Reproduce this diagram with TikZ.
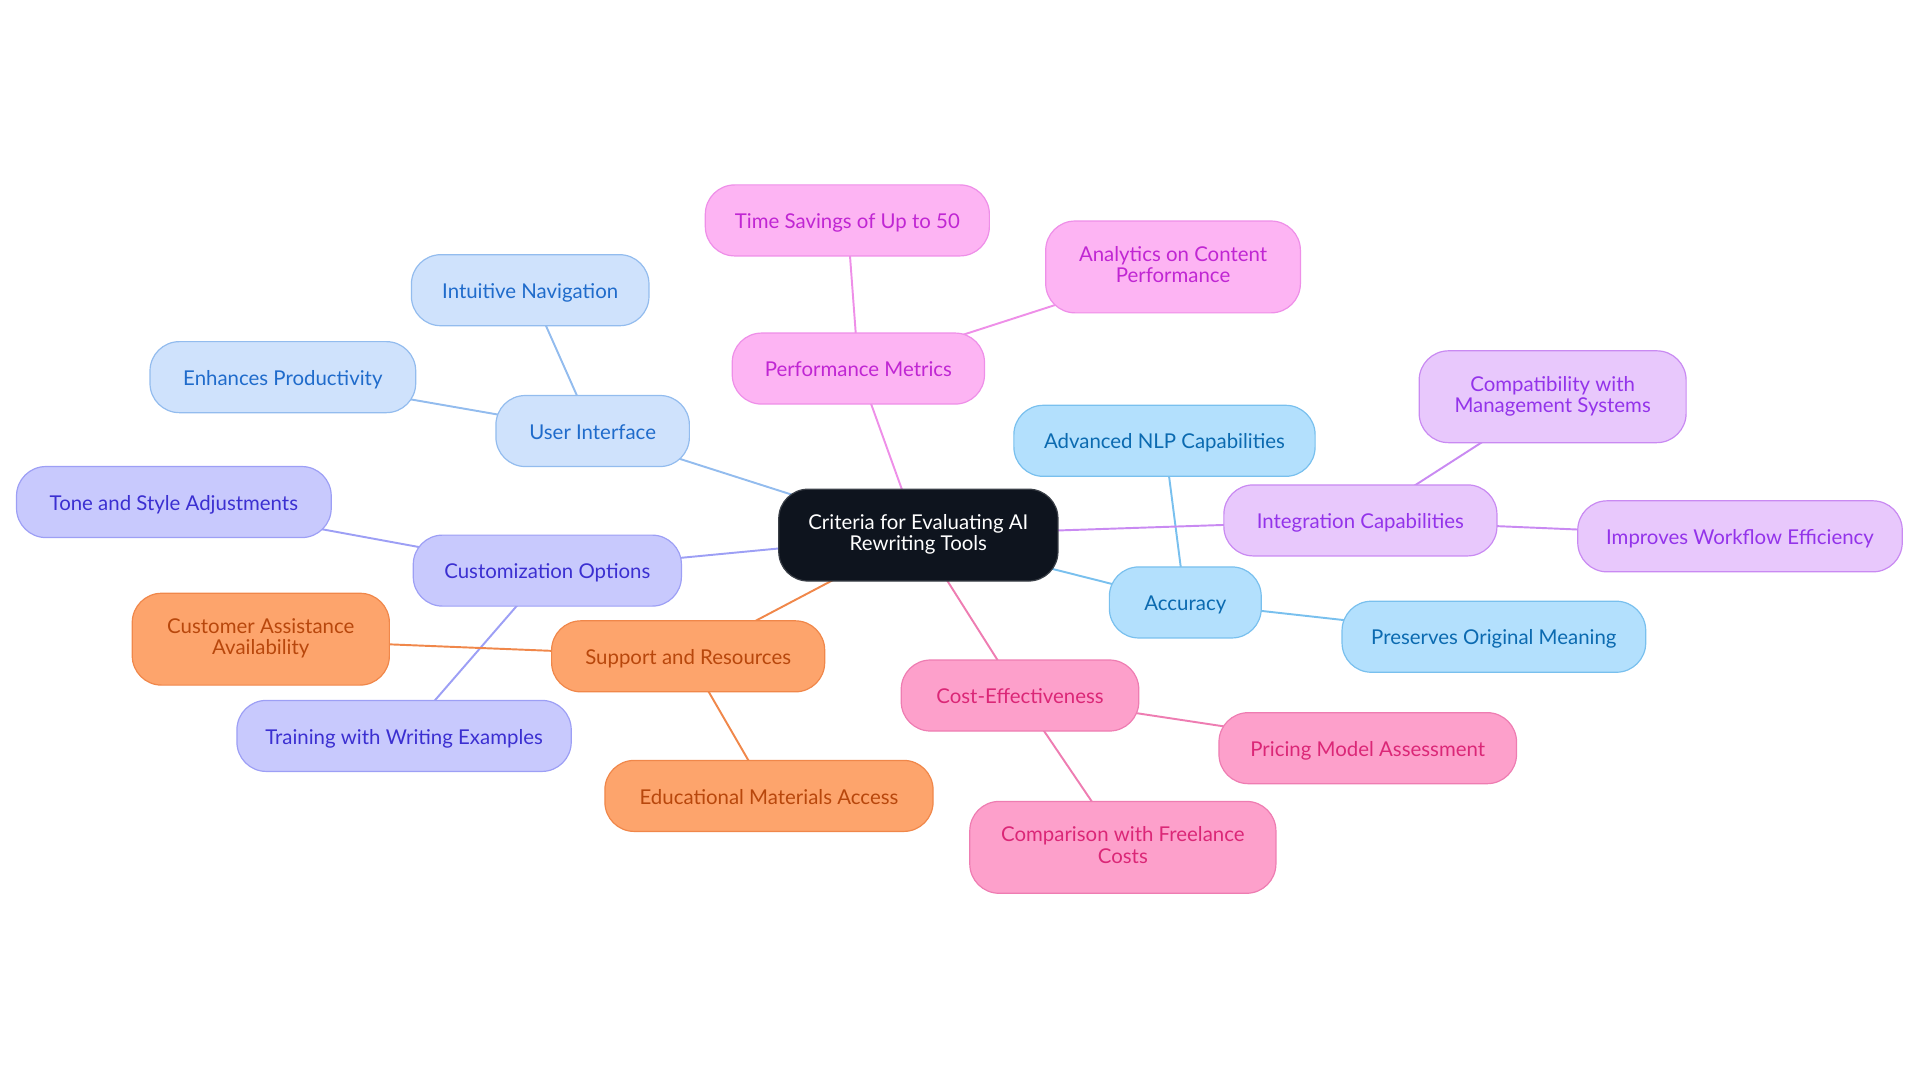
\documentclass[tikz,border=0pt]{standalone}
\usepackage{fontspec}
\setmainfont{Lato}
\usetikzlibrary{backgrounds}
\definecolor{cdark}{HTML}{0E141E}
\definecolor{cdarkb}{HTML}{3A3F47}
\definecolor{pmF}{HTML}{FDB4F3}\definecolor{pmT}{HTML}{C026D3}\definecolor{pmE}{HTML}{EE8FE8}
\definecolor{uiF}{HTML}{CFE2FC}\definecolor{uiT}{HTML}{1F6BCB}\definecolor{uiE}{HTML}{93BCEE}
\definecolor{coF}{HTML}{C8C9FD}\definecolor{coT}{HTML}{3B2FD1}\definecolor{coE}{HTML}{9D9FF5}
\definecolor{suF}{HTML}{FDA46C}\definecolor{suT}{HTML}{B8470C}\definecolor{suE}{HTML}{F0874A}
\definecolor{ceF}{HTML}{FDA0CB}\definecolor{ceT}{HTML}{DB2777}\definecolor{ceE}{HTML}{EE7DB2}
\definecolor{acF}{HTML}{B3E0FD}\definecolor{acT}{HTML}{0B6AB0}\definecolor{acE}{HTML}{79C0EE}
\definecolor{igF}{HTML}{E8C8FC}\definecolor{igT}{HTML}{9333EA}\definecolor{igE}{HTML}{C98AF2}
\tikzset{
  box/.style={rectangle, rounded corners=22pt, line width=0.9pt, inner sep=0pt, align=center,
    font=\fontsize{15.3}{16}\selectfont,
    execute at begin node=\rule{0pt}{15.7pt}, execute at end node=\rule[-3.5pt]{0pt}{3.5pt}},
  sz/.style 2 args={minimum width=#1*0.918pt, minimum height=#2*0.918pt},
  root/.style={box, fill=cdark, draw=cdarkb, text=white},
  pmbox/.style={box, fill=pmF, draw=pmE, text=pmT},
  uibox/.style={box, fill=uiF, draw=uiE, text=uiT},
  cobox/.style={box, fill=coF, draw=coE, text=coT},
  subox/.style={box, fill=suF, draw=suE, text=suT},
  cebox/.style={box, fill=ceF, draw=ceE, text=ceT},
  acbox/.style={box, fill=acF, draw=acE, text=acT},
  igbox/.style={box, fill=igF, draw=igE, text=igT},
  link/.style={line width=1.45pt},
}
\begin{document}
\begin{tikzpicture}[x=0.918pt,y=-0.918pt]
\useasboundingbox (0,0) rectangle (1568,884);
\node[root, sz={228}{75}] (root) at (750,437) {Criteria for Evaluating AI\\Rewriting Tools};
% Performance
\node[pmbox, sz={206}{58}] (pm) at (701,301) {Performance Metrics};
\node[pmbox, sz={232}{58}] (pm1) at (692,180) {Time Savings of Up to 50};
\node[pmbox, sz={208}{75}] (pm2) at (958,218) {Analytics on Content\\Performance};
% UI
\node[uibox, sz={158}{58}] (ui) at (484,352) {User Interface};
\node[uibox, sz={194}{58}] (ui1) at (433,237) {Intuitive Navigation};
\node[uibox, sz={217}{58}] (ui2) at (231,308) {Enhances Productivity};
% Customization
\node[cobox, sz={219}{58}] (co) at (447,466) {Customization Options};
\node[cobox, sz={257}{58}] (co1) at (142,410) {Tone and Style Adjustments};
\node[cobox, sz={273}{58}] (co2) at (330,601) {Training with Writing Examples};
% Support
\node[subox, sz={223}{58}] (su) at (562,536) {Support and Resources};
\node[subox, sz={210}{75}] (su1) at (213,522) {Customer Assistance\\Availability};
\node[subox, sz={268}{58}] (su2) at (628,650) {Educational Materials Access};
% Cost
\node[cebox, sz={194}{58}] (ce) at (833,568) {Cost-Effectiveness};
\node[cebox, sz={243}{58}] (ce1) at (1117,611) {Pricing Model Assessment};
\node[cebox, sz={250}{75}] (ce2) at (917,692) {Comparison with Freelance\\Costs};
% Accuracy
\node[acbox, sz={124}{58}] (ac) at (968,492) {Accuracy};
\node[acbox, sz={246}{58}] (ac1) at (951,360) {Advanced NLP Capabilities};
\node[acbox, sz={248}{58}] (ac2) at (1220,520) {Preserves Original Meaning};
% Integration
\node[igbox, sz={223}{58}] (ig) at (1111,425) {Integration Capabilities};
\node[igbox, sz={218}{75}] (ig1) at (1268,324) {Compatibility with\\Management Systems};
\node[igbox, sz={265}{58}] (ig2) at (1421,438) {Improves Workflow Efficiency};
\begin{scope}[on background layer]
\draw[link, pmE] (root.center) -- (pm.center);
\draw[link, pmE] (pm.center) -- (pm1.center);
\draw[link, pmE] (pm.center) -- (pm2.center);
\draw[link, uiE] (root.center) -- (ui.center);
\draw[link, uiE] (ui.center) -- (ui1.center);
\draw[link, uiE] (ui.center) -- (ui2.center);
\draw[link, coE] (root.center) -- (co.center);
\draw[link, coE] (co.center) -- (co1.center);
\draw[link, coE] (co.center) -- (co2.center);
\draw[link, suE] (root.center) -- (su.center);
\draw[link, suE] (su.center) -- (su1.center);
\draw[link, suE] (su.center) -- (su2.center);
\draw[link, ceE] (root.center) -- (ce.center);
\draw[link, ceE] (ce.center) -- (ce1.center);
\draw[link, ceE] (ce.center) -- (ce2.center);
\draw[link, acE] (root.center) -- (ac.center);
\draw[link, acE] (ac.center) -- (ac1.center);
\draw[link, acE] (ac.center) -- (ac2.center);
\draw[link, igE] (root.center) -- (ig.center);
\draw[link, igE] (ig.center) -- (ig1.center);
\draw[link, igE] (ig.center) -- (ig2.center);
\end{scope}
\end{tikzpicture}
\end{document}
